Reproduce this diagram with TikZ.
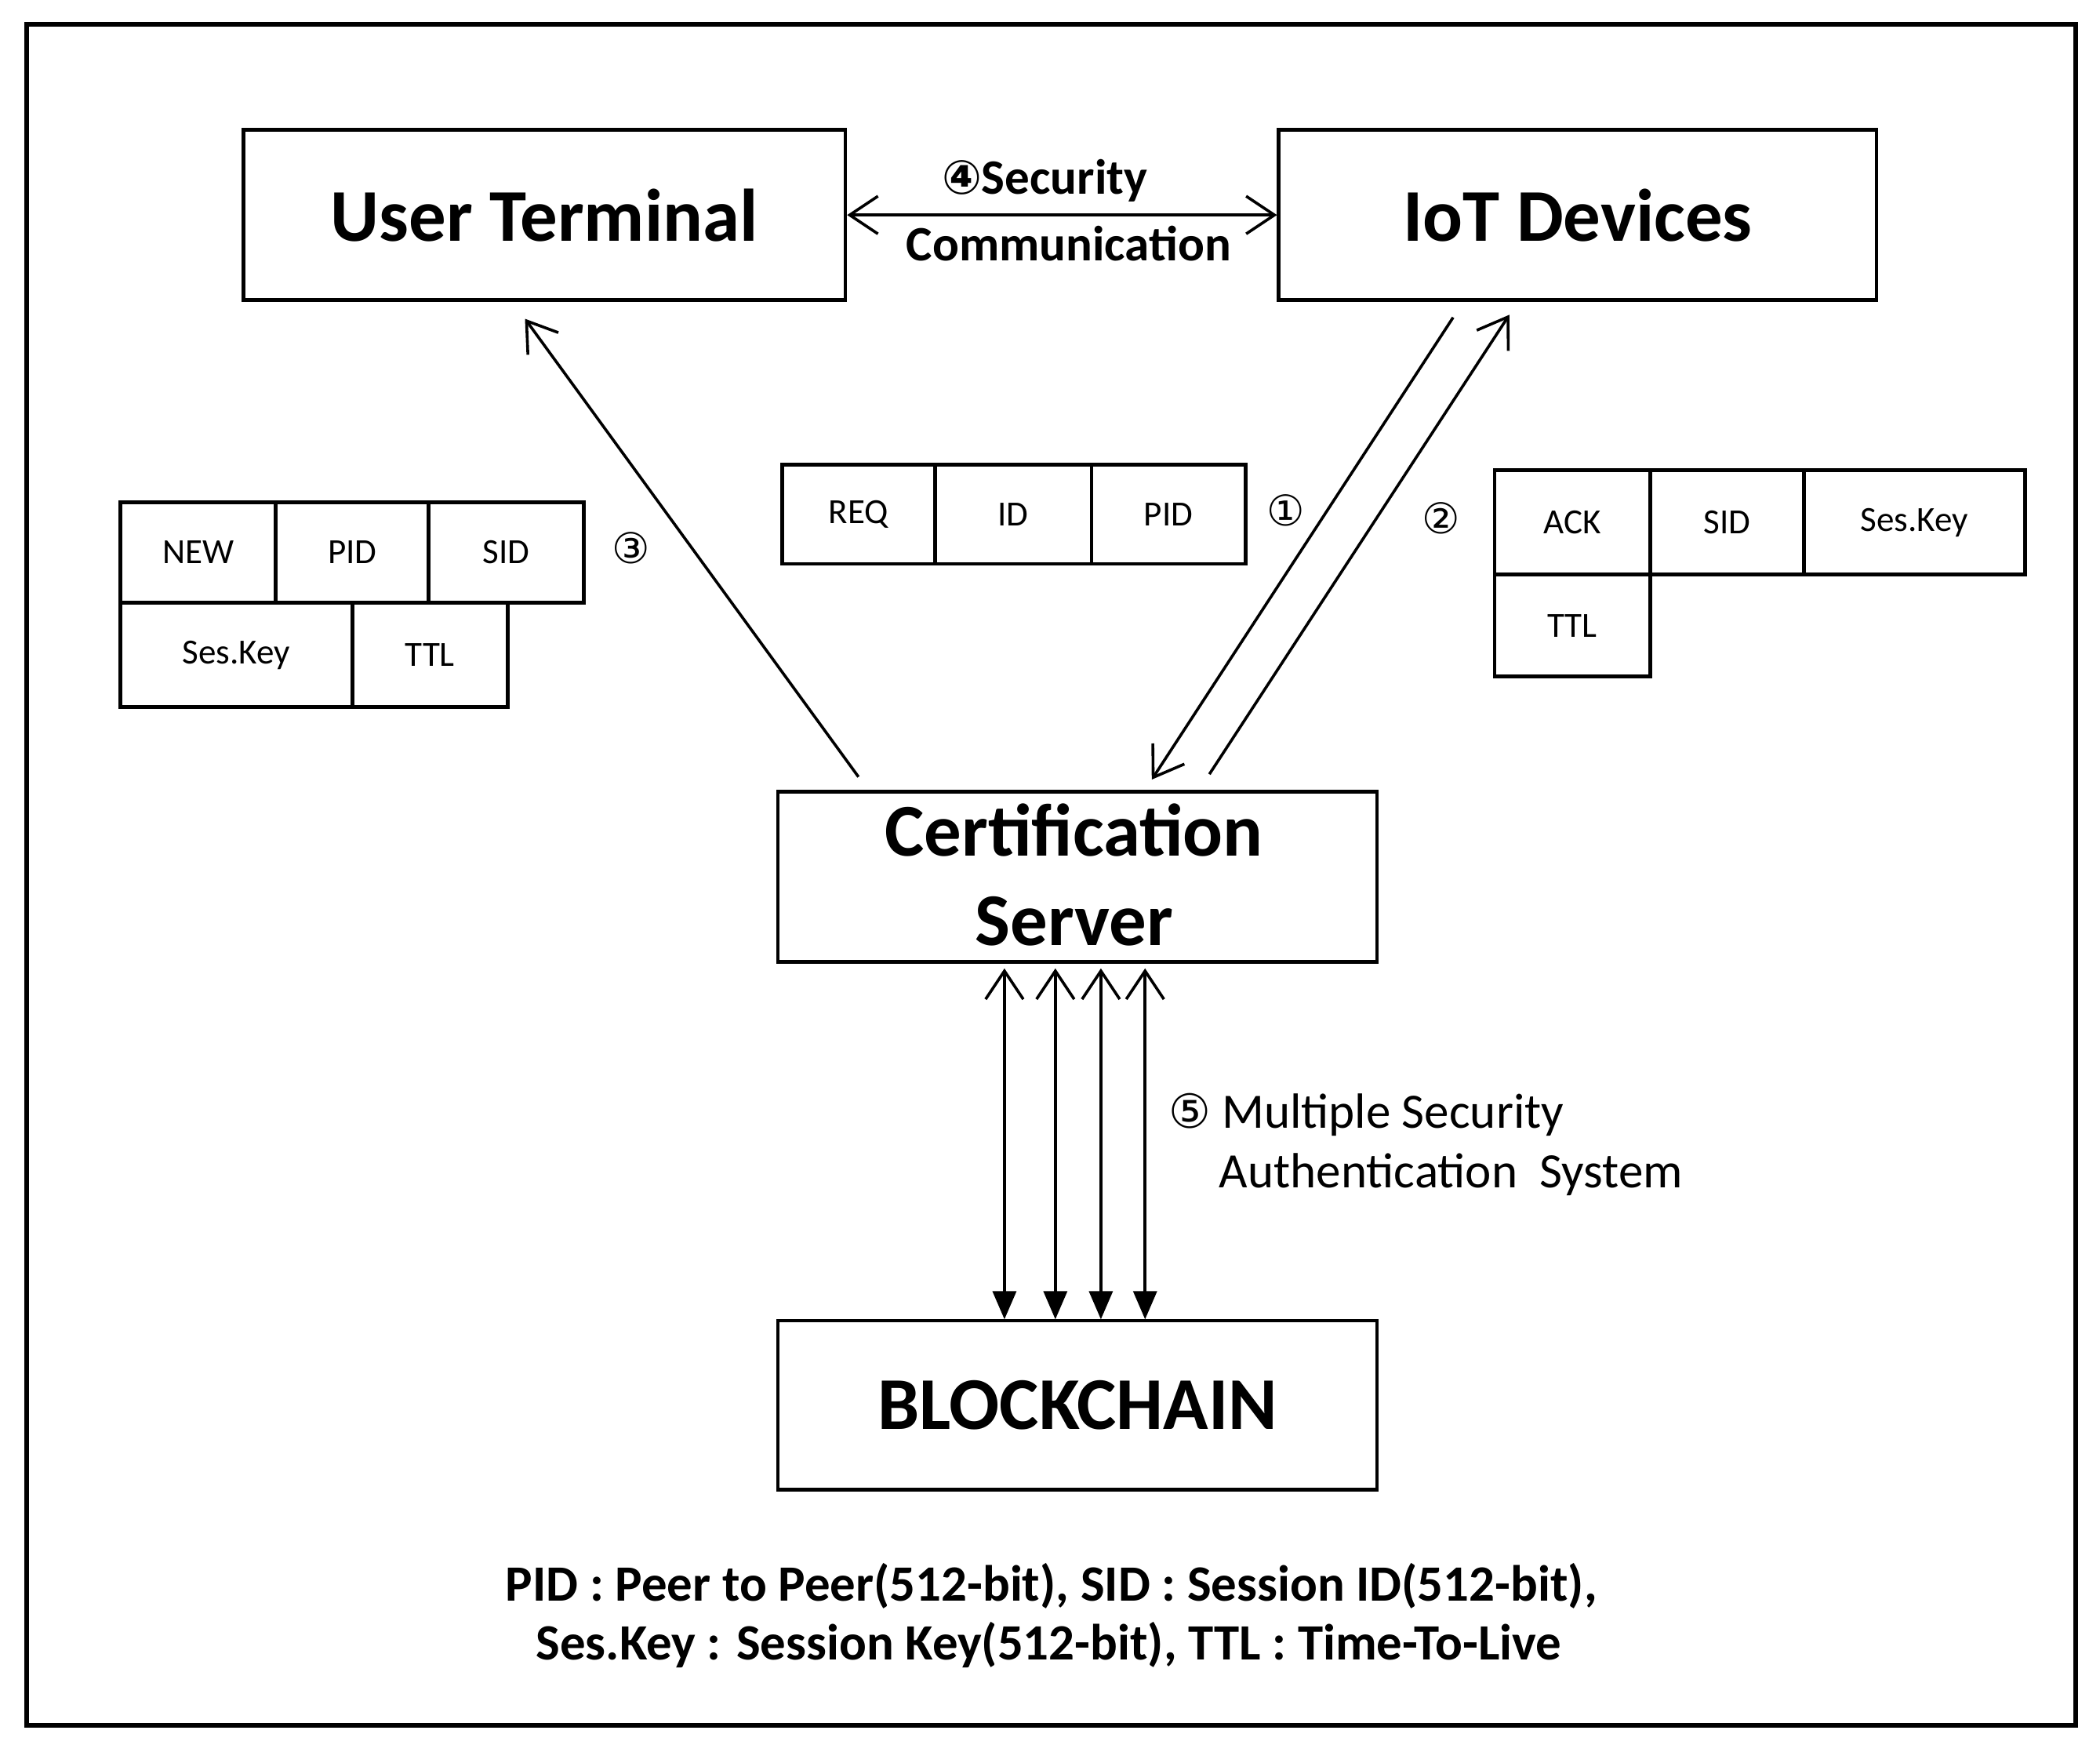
\documentclass[tikz,border=0pt]{standalone}
\usepackage{fontspec}
\setmainfont{Carlito}
\newfontfamily\circf{DejaVu Sans}
\usetikzlibrary{arrows.meta}
\begin{document}
\begin{tikzpicture}[x=0.01cm,y=-0.01cm,
  box/.style={draw,line width=0.8pt},
  big/.style={font=\fontsize{15.8}{19}\selectfont\bfseries},
  circ/.style={font=\circf\fontsize{9}{10}\selectfont},
  ar/.style={line width=0.6pt,-{Straight Barb[length=6pt,width=8pt]}}]
\useasboundingbox (0,0) rectangle (1568,1308);
\draw[line width=1pt] (20,18) rectangle (1550,1288);
\node[box,big,minimum width=4.49cm,minimum height=1.27cm] (ut) at (406.5,160.5) {User Terminal};
\node[box,big,minimum width=4.46cm,minimum height=1.27cm] (iot) at (1178,160.5) {IoT Devices};
\node[box,minimum width=4.47cm,minimum height=1.27cm] (cs) at (804.5,654.5) {};
\node[big] (cs1) at (802,620) {Certification};
\node[big] (cs2) at (802,688) {Server};
\node[box,big,minimum width=4.47cm,minimum height=1.26cm] (bc) at (804.5,1049) {BLOCKCHAIN};
\draw[line width=0.6pt,{Straight Barb[length=6pt,width=8pt]}-{Straight Barb[length=6pt,width=8pt]}] (ut.east) -- (iot.west);
\node[font=\fontsize{10.5}{12}\selectfont\bfseries] (s1) at (780,135) {{\circf\fontsize{10}{11}\selectfont④}Security};
\node[font=\fontsize{10.5}{12}\selectfont\bfseries] (s2) at (798,182) {Communication};
\coordinate (a1) at (641,580); \coordinate (a2) at (392,238);
\draw[ar] (a1) -- (a2);
\coordinate (b1) at (1085,237); \coordinate (b2) at (860,582);
\draw[ar] (b1) -- (b2);
\coordinate (c1) at (903,578); \coordinate (c2) at (1127,235);
\draw[ar] (c1) -- (c2);
\foreach \x/\n in {750/v1,788/v2,822/v3,855/v4}{
  \coordinate (\n t) at (\x,723); \coordinate (\n b) at (\x,985);
  \draw[line width=0.6pt,{Straight Barb[length=6pt,width=8pt]}-{Triangle[length=6pt,width=5pt]}] (\n t) -- (\n b);}
\foreach \a/\b/\c/\d/\t/\n in {584/698/347/421/REQ/f1,698/815/347/421/ID/f2,815/930/347/421/PID/f3,
 90/206/375/450/NEW/g1,206/320/375/450/PID/g2,320/436/375/450/SID/g3,90/263/450/528/Ses.Key/g4,263/379/450/528/TTL/g5,
 1116/1232/351/429/ACK/h1,1232/1347/351/429/SID/h2,1347/1512/351/429/Ses.Key/h3,1116/1232/429/505/TTL/h4}{
  \draw[line width=0.8pt] (\a,\c) rectangle (\b,\d);
  \node[font=\fontsize{7.5}{9}\selectfont] (\n) at ({(\a+\b)/2},{(\c+\d)/2}) {\t};}
\node[circ] (n1) at (960,381) {①};
\node[circ] (n2) at (1076,387) {②};
\node[circ] (n3) at (471,409) {③};
\node[font=\fontsize{10.5}{12}\selectfont,anchor=west] (m1) at (860,832) {{\circf\fontsize{10}{11}\selectfont⑤}\ Multiple Security};
\node[font=\fontsize{10.5}{12}\selectfont,anchor=west] (m2) at (898,877) {Authentication\ \ System};
\node[font=\fontsize{10.8}{13}\selectfont\bfseries] (l1) at (785,1184) {PID : Peer to Peer(512-bit), SID : Session ID(512-bit),};
\node[font=\fontsize{10.8}{13}\selectfont\bfseries] (l2) at (783,1228) {Ses.Key : Session Key(512-bit), TTL : Time-To-Live};
\end{tikzpicture}
\end{document}
